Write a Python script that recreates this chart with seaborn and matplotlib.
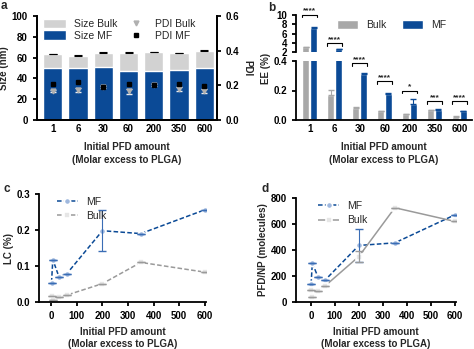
import numpy as np
import pandas as pd
import matplotlib
matplotlib.use("Agg")
import matplotlib.pyplot as plt
import seaborn as sns

sns.set_style("ticks")
plt.rcParams['font.family'] = ['Liberation Sans', 'DejaVu Sans']
plt.rcParams['font.size'] = 7
plt.rcParams['font.weight'] = 'bold'
plt.rcParams['axes.labelweight'] = 'bold'
plt.rcParams['axes.linewidth'] = 1.3
plt.rcParams['xtick.major.width'] = 1.3
plt.rcParams['ytick.major.width'] = 1.3
plt.rcParams['xtick.major.size'] = 3
plt.rcParams['ytick.major.size'] = 3
plt.rcParams['xtick.color'] = 'black'
plt.rcParams['ytick.color'] = 'black'
plt.rcParams['axes.edgecolor'] = 'black'

# ---------------- data ----------------
pfd = ["1", "6", "30", "60", "200", "350", "600"]
pfd_num = [1, 6, 30, 60, 200, 350, 600]

size_bulk = [63, 62, 64.5, 64.5, 65, 64, 66.5]
size_bulk_err = [0.5, 0.4, 0.8, 0.6, 0.5, 0.5, 0.6]
size_mf = [50, 50, 51, 47, 47, 48.5, 50]
pdi_bulk = [0.168, 0.172, 0.19, 0.165, 0.2, 0.18, 0.165]
pdi_bulk_err = [0.005, 0.01, 0.008, 0.015, 0.005, 0.012, 0.012]
pdi_mf = [0.21, 0.22, 0.19, 0.21, 0.2, 0.21, 0.195]

ee_bulk = [3.0, 0.17, 0.083, 0.06, 0.04, 0.065, 0.022]
ee_bulk_err = [0.1, 0.035, 0.003, 0.003, 0.002, 0.003, 0.003]
ee_mf = [7.2, 2.6, 0.315, 0.178, 0.11, 0.07, 0.058]
ee_mf_err = [0.3, 0.1, 0.005, 0.003, 0.03, 0.003, 0.003]
ee_stars = ["****", "****", "****", "****", "*", "***", "****"]

lc_mf = [0.054, 0.118, 0.07, 0.078, 0.198, 0.19, 0.256]
lc_mf_err = [0, 0, 0, 0, 0.057, 0, 0]
lc_bulk = [0.016, 0.005, 0.013, 0.019, 0.051, 0.11, 0.083]

np_mf = [140, 300, 190, 170, 435, 455, 670]
np_mf_err = [0, 0, 0, 0, 125, 0, 0]
np_bulk = [95, 35, 85, 125, 350, 725, 620]
np_bulk_err = [0, 0, 0, 0, 40, 0, 0]

BLUE = "#0b4a96"
LGRAY = "#d2d2d2"
MGRAY = "#a8a8a8"
DGRAY = "#9a9a9a"
W, H = 474, 349

fig = plt.figure(figsize=(W / 100, H / 100), dpi=100)


def add_ax(x0, y0, x1, y1):
    return fig.add_axes([x0 / W, 1 - y1 / H, (x1 - x0) / W, (y1 - y0) / H])


xlabel = "Initial PFD amount\n(Molar excess to PLGA)"
legprop = {"weight": "normal", "size": 7.5}

# ---------------- panel a ----------------
ax = add_ax(37, 16, 217, 120)
df_a = pd.DataFrame({"pfd": pfd, "bulk": size_bulk, "mf": size_mf})
sns.barplot(data=df_a, x="pfd", y="bulk", color=LGRAY, width=0.76, ax=ax,
            saturation=1, label="Size Bulk", errorbar=None)
sns.barplot(data=df_a, x="pfd", y="mf", color=BLUE, width=0.76, ax=ax,
            saturation=1, label="Size MF", errorbar=None)
xs = np.arange(len(pfd))
ax.errorbar(xs, size_bulk, yerr=[np.zeros(7), size_bulk_err], fmt="none",
            ecolor="black", elinewidth=0.8, capsize=3, capthick=0.8)
ax.set_ylim(0, 100)
ax.set_yticks([0, 20, 40, 60, 80, 100])
ax.set_xlim(-0.62, 6.5)
ax.set_ylabel("Size (nm)", labelpad=2)
ax.set_xlabel(xlabel, labelpad=6, linespacing=1.35)
ax.tick_params(axis="x", length=0, pad=3)
ax2 = ax.twinx()
ax2.errorbar(xs, pdi_bulk, yerr=pdi_bulk_err, fmt="none",
             ecolor="#f0f0f0", elinewidth=0.8, capsize=2)
hb, = ax2.plot(xs, pdi_bulk, "v", color="#b0b0b0", ms=3.5, label="PDI Bulk")
hm, = ax2.plot(xs, pdi_mf, "s", color="black", ms=3.5, label="PDI MF")
ax2.set_ylim(0, 0.6)
ax2.set_yticks([0, 0.2, 0.4, 0.6])
ax2.set_yticklabels(["0.0", "0.2", "0.4", "0.6"])
ax2.set_ylabel("PDI", rotation=270, labelpad=9)
for a in (ax, ax2):
    a.spines["top"].set_visible(False)
h1, l1 = ax.get_legend_handles_labels()
ax.legend(h1 + [hb, hm], l1 + ["PDI Bulk", "PDI MF"], ncol=2, loc="upper left",
          bbox_to_anchor=(0.0, 1.03), frameon=False, prop=legprop,
          handlelength=2.2, handleheight=1.0, columnspacing=0.6,
          labelspacing=0.1, borderaxespad=0.2)
fig.text(1 / W, 1 - 9 / H, "a", fontsize=8.5, weight="bold")

# ---------------- panel b ----------------
df_b = pd.DataFrame({
    "pfd": pfd * 2,
    "ee": ee_bulk + ee_mf,
    "grp": ["Bulk"] * 7 + ["MF"] * 7,
})
axu = add_ax(296, 15, 472, 52)
axl = add_ax(296, 61, 472, 120)
for a in (axu, axl):
    sns.barplot(data=df_b, x="pfd", y="ee", hue="grp",
                palette={"Bulk": MGRAY, "MF": BLUE}, width=0.62, gap=0.12,
                saturation=1, errorbar=None, ax=a, legend=(a is axu))
    off = 0.155
    a.errorbar(xs - off, ee_bulk, yerr=[np.zeros(7), ee_bulk_err], fmt="none",
               ecolor=MGRAY, elinewidth=0.8, capsize=2)
    a.errorbar(xs + off, ee_mf, yerr=[np.zeros(7), ee_mf_err], fmt="none",
               ecolor=BLUE, elinewidth=0.8, capsize=2)
    a.set_xlim(-0.55, 6.5)
    a.spines["top"].set_visible(False)
    a.spines["right"].set_visible(False)
    a.set_ylabel("")
axu.set_ylim(2, 10)
axu.set_yticks([2, 4, 6, 8, 10])
axu.spines["bottom"].set_visible(False)
axu.tick_params(axis="x", length=0, labelbottom=False)
axu.set_xlabel("")
axl.set_ylim(0, 0.4)
axl.set_yticks([0, 0.2, 0.4])
axl.set_yticklabels(["0.0", "0.2", "0.4"])
axl.tick_params(axis="x", length=0, pad=3)
axl.set_xlabel(xlabel, labelpad=6, linespacing=1.35)
axu.legend(title=None, ncol=2, loc="upper left", bbox_to_anchor=(0.18, 1.12),
           frameon=False, prop=legprop,
           handlelength=2.0, handleheight=1.0, columnspacing=1.5)
fig.text(268 / W, 1 - 11 / H, "b", fontsize=8.5, weight="bold")
fig.text(266 / W, 1 - 68 / H, "EE (%)", rotation=90, ha="center", va="center",
         weight="bold", fontsize=7)

# significance brackets
br = [(axu, 10.1, 0.5), (axu, 3.9, 0.5), (axl, 0.385, 0.02), (axl, 0.265, 0.02),
      (axl, 0.2, 0.02), (axl, 0.127, 0.02), (axl, 0.127, 0.02)]
for i, (a, yb, dy) in enumerate(br):
    x0, x1 = i - 0.3, i + 0.3
    a.plot([x0, x0, x1, x1], [yb - dy, yb, yb, yb - dy], color="black", lw=0.8,
           clip_on=False)
    a.text(i, yb, ee_stars[i], ha="center", va="bottom", fontsize=6,
           weight="bold", clip_on=False)


def line_panel(axp, xv, mf, bulk, mf_err, bulk_err, bulk_dash):
    df = pd.DataFrame({"x": xv * 2, "y": mf + bulk,
                       "grp": ["MF"] * 7 + ["Bulk"] * 7})
    sns.lineplot(data=df, x="x", y="y", hue="grp",
                 palette={"MF": BLUE, "Bulk": DGRAY}, style="grp",
                 markers={"MF": "o", "Bulk": "s"},
                 dashes={"MF": (3, 1.5), "Bulk": bulk_dash},
                 ax=axp, lw=1.1, markersize=4.5, markeredgewidth=1.2,
                 legend=True)
    for ln, fc in zip(axp.lines[:2], ["#9fb8de", "#e6e6e6"]):
        ln.set_markerfacecolor(fc)
    axp.errorbar(xv, mf, yerr=mf_err, fmt="none", ecolor="#3a6db5",
                 elinewidth=0.8, capsize=3)
    axp.errorbar(xv, bulk, yerr=bulk_err, fmt="none", ecolor=DGRAY,
                 elinewidth=0.8, capsize=3)
    axp.set_xticks([0, 100, 200, 300, 400, 500, 600])
    axp.set_xlabel(xlabel, labelpad=4, linespacing=1.35)
    axp.spines["top"].set_visible(False)
    axp.spines["right"].set_visible(False)
    hh, ll = axp.get_legend_handles_labels()
    for h_, fc in zip(hh, ["#9fb8de", "#e6e6e6"]):
        h_.set_markerfacecolor(fc)
    return hh, ll


# ---------------- panel c ----------------
axc = add_ax(39, 194, 206, 302)
hc, lcab = line_panel(axc, pfd_num, lc_mf, lc_bulk, lc_mf_err, [0] * 7, (3, 1.5))
axc.set_xlim(-48, 605)
axc.set_ylim(0, 0.3)
axc.set_yticks([0, 0.1, 0.2, 0.3])
axc.set_yticklabels(["0.0", "0.1", "0.2", "0.3"])
axc.set_ylabel("LC (%)", labelpad=2)
axc.legend(hc, lcab, loc="upper left", bbox_to_anchor=(0.05, 1.06), frameon=False,
           prop=legprop, handlelength=2.0, labelspacing=0.4)
fig.text(4 / W, 1 - 192 / H, "c", fontsize=8.5, weight="bold")

# ---------------- panel d ----------------
axd = add_ax(296, 198, 456, 302)
hd, ld = line_panel(axd, pfd_num, np_mf, np_bulk, np_mf_err, np_bulk_err, (1, 0))
axd.set_xlim(-62, 605)
axd.set_ylim(0, 800)
axd.set_yticks([0, 200, 400, 600, 800])
axd.set_ylabel("PFD/NP (molecules)", labelpad=2)
axd.legend(hd, ld, loc="upper left", bbox_to_anchor=(0.08, 1.06), frameon=False,
           prop=legprop, handlelength=2.0, labelspacing=0.4)
fig.text(262 / W, 1 - 192 / H, "d", fontsize=8.5, weight="bold")

fig.savefig("out.png", dpi=100)
